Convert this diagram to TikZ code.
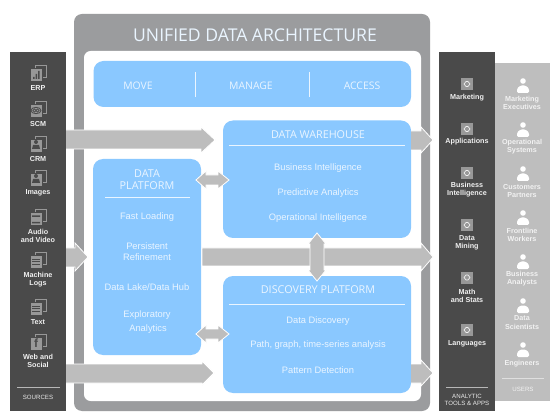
\documentclass[tikz,border=0pt]{standalone}
\usepackage{fontspec}
\setmainfont{Liberation Sans}
\newfontfamily\headfont{Open Sans}
\definecolor{blueb}{HTML}{8AC8FF}
\definecolor{outerg}{HTML}{9B9C9E}
\definecolor{darkp}{HTML}{4A4A4A}
\definecolor{arrowg}{HTML}{BDBDBD}
\definecolor{usersp}{HTML}{BEBEBE}
\definecolor{icong}{HTML}{989898}
\definecolor{softw}{HTML}{EAF5FF}
\tikzset{
 bluebox/.style={fill=blueb,draw=none,rounded corners=7.5},
 blockarrow/.style={fill=arrowg,draw=white,line width=0.6pt,line join=miter},
 sep/.style={draw=#1,line width=0.6pt},
 srclabel/.style={align=center,text=white!92!darkp,yshift=-0.5pt,font=\bfseries\fontsize{5.4}{6.2}\selectfont,inner sep=0},
 userlabel/.style={align=center,text=white!80!usersp,yshift=-0.5pt,font=\bfseries\fontsize{5.4}{6.2}\selectfont,inner sep=0},
 footlabel/.style={align=center,text=white!88!darkp,font=\fontsize{4.6}{5.4}\selectfont,inner sep=0},
 toplabel/.style={text=softw,yshift=-0.4pt,font=\headfont\fontsize{7.8}{8.6}\selectfont,inner sep=0},
 headlabel/.style={text=softw,yshift=-0.4pt,align=center,font=\headfont\fontsize{8.1}{9.1}\selectfont,inner sep=0},
 bodylabel/.style={align=center,text=softw,yshift=-1pt,font=\fontsize{7}{8}\selectfont,inner sep=0},
}
\newcommand{\sheeticon}[3]{%
 \begin{scope}[shift={(#1,#2)}]
  \draw[icong,line width=0.5pt] (-3,-8) rectangle (8,4);
  \fill[icong] (-8,-5) rectangle (4,8);
  \draw[darkp,line width=0.3pt] (-8,-5) rectangle (4,8);
  #3
 \end{scope}}
\newcommand{\pageglyph}{\foreach \yy in {-1,1.5,4}{\draw[darkp,line width=0.5pt] (-6,\yy) -- (2,\yy);}}
\newcommand{\personglyph}{\fill[darkp] (-2,-2) circle (2);\fill[darkp] (-6,5) -- (-5,1) -- (1,1) -- (2,5) -- cycle;}
\newcommand{\rightsq}[2]{\fill[icong] (#1-6,#2-6) rectangle (#1+6,#2+6);
 \draw[white!85!icong,line width=0.5pt] (#1-3,#2) -- (#1-1,#2-2.5) -- (#1+1,#2-2.5) -- (#1+3,#2) -- (#1+1,#2+2.5) -- (#1-1,#2+2.5) -- cycle;}
\newcommand{\personicon}[2]{\fill[white] (#1,#2+3) circle (2.8);
 \fill[white,rounded corners=1] (#1-6,#2+15) -- (#1-6,#2+10.5) -- (#1-2.5,#2+7.5) -- (#1+2.5,#2+7.5) -- (#1+6,#2+10.5) -- (#1+6,#2+15) -- cycle;}
\begin{document}
\begin{tikzpicture}[x=0.75pt,y=-0.75pt]
\useasboundingbox (0,0) rectangle (560,420);
\fill[white] (0,0) rectangle (560,420);
% panels
\fill[darkp] (10,52) rectangle (66,411);
\fill[usersp] (495,63) rectangle (550,401);
\fill[darkp] (439,52) rectangle (495,411);
\fill[outerg,rounded corners=6] (74,14) rectangle (430,411);
\fill[white,rounded corners=5] (84,51) rectangle (421,401);
% blue boxes
\fill[bluebox] (93.5,61) rectangle (411,107);
\fill[bluebox] (223,120.5) rectangle (411,238);
\fill[bluebox] (93,159) rectangle (201,355);
\fill[bluebox] (223,276) rectangle (411,393);
% through arrows
\draw[blockarrow] (66,130) -- (201,130) -- (201,127) -- (215,140) -- (201,153) -- (201,149) -- (66,149);
\draw[blockarrow] (411,131) -- (421,131) -- (421,127) -- (433,140) -- (421,153) -- (421,150) -- (411,150);
\draw[blockarrow] (66,248) -- (75,248) -- (75,243) -- (88,257) -- (75,271) -- (75,267) -- (66,267);
\draw[blockarrow] (202,248) -- (421,248) -- (421,243) -- (433,257) -- (421,271) -- (421,266) -- (202,266) -- cycle;
\draw[blockarrow] (66,364) -- (202,364) -- (202,361) -- (214,373) -- (202,385) -- (202,383) -- (66,383);
\draw[blockarrow] (411,364) -- (421,364) -- (421,360) -- (433,373) -- (421,386) -- (421,383) -- (411,383);
% double arrows
\draw[blockarrow] (317,233) -- (326,244) -- (324,244) -- (324,270) -- (326,270) -- (317,281) -- (308,270) -- (310,270) -- (310,244) -- (308,244) -- cycle;
\draw[blockarrow] (196,180) -- (206,171) -- (206,175) -- (218,175) -- (218,171) -- (229,180) -- (218,189) -- (218,185) -- (206,185) -- (206,189) -- cycle;
\draw[blockarrow] (196,334) -- (206,325) -- (206,329) -- (218,329) -- (218,325) -- (229,334) -- (218,343) -- (218,339) -- (206,339) -- (206,343) -- cycle;
% title and top bar
\node[text=softw,font=\headfont\fontsize{13.2}{14}\selectfont,inner sep=0] (title) at (255,35) {UNIFIED DATA ARCHITECTURE};
\node[toplabel] (move) at (138,85) {MOVE};
\node[toplabel] (manage) at (251,85) {MANAGE};
\node[toplabel] (access) at (362,85) {ACCESS};
\draw[sep=softw] (195,72) -- (195,97);
\draw[sep=softw] (309,72) -- (309,97);
% data warehouse
\node[headlabel] (dw) at (318,134) {DATA WAREHOUSE};
\draw[sep=softw] (229,145) -- (405,145);
\node[bodylabel] (dw1) at (318,167) {Business Intelligence};
\node[bodylabel] (dw2) at (318,192) {Predictive Analytics};
\node[bodylabel] (dw3) at (318,217) {Operational Intelligence};
% data platform
\node[headlabel] (dp) at (147,179) {DATA\\PLATFORM};
\draw[sep=softw] (105,197) -- (190,197);
\node[bodylabel] (dp1) at (147,216) {Fast Loading};
\node[bodylabel] (dp2) at (147,250) {Persistent\\Refinement};
\node[bodylabel] (dp3) at (147,286) {Data Lake/Data Hub};
\node[bodylabel] (dp4) at (147,314) {Exploratory};
\node[bodylabel] (dp5) at (148,328) {Analytics};
% discovery
\node[headlabel] (disc) at (318,289) {DISCOVERY PLATFORM};
\draw[sep=softw] (229,304) -- (405,304);
\node[bodylabel] (d1) at (318,320) {Data Discovery};
\node[bodylabel] (d2) at (318,344) {Path, graph, time-series analysis};
\node[bodylabel] (d3) at (318,369) {Pattern Detection};
% source icons
\sheeticon{38}{73}{\fill[darkp] (-5,4) rectangle (-3.5,6) (-2.5,1) rectangle (-1,6) (0,-2) rectangle (1.5,6);}
\sheeticon{38}{109}{\draw[darkp,line width=0.6pt] (-2,1.5) ellipse (5 and 3.2);\draw[darkp,line width=0.5pt] (-3.5,1.5) circle (1.6) (-0.5,1.5) circle (1.6);}
\sheeticon{38}{144}{\personglyph}
\sheeticon{38}{178}{\personglyph}
\sheeticon{38}{217}{\fill[darkp] (-6,-1.5) rectangle (2,0) (-6,5) rectangle (2,6.5);}
\sheeticon{38}{260}{\pageglyph}
\sheeticon{38}{307}{\pageglyph}
\sheeticon{38}{342}{\node[text=darkp,font=\bfseries\fontsize{9}{9}\selectfont,inner sep=0] (fb) at (-2,1.5) {f};}
% source labels
\node[srclabel] (erp) at (38,87) {ERP};
\node[srclabel] (scm) at (38,123) {SCM};
\node[srclabel] (crm) at (38,158) {CRM};
\node[srclabel] (img) at (38,192) {Images};
\node[srclabel] (av) at (38,235) {Audio\\and Video};
\node[srclabel] (ml) at (38,279) {Machine\\Logs};
\node[srclabel] (txt) at (38,321) {Text};
\node[srclabel] (web) at (38,360) {Web and\\Social};
\draw[sep=white!60!darkp] (17,387) -- (60,387);
\node[footlabel] (src) at (38,397) {SOURCES};
% tool icons and labels
\rightsq{467}{84}\rightsq{467}{129}\rightsq{467}{173}\rightsq{467}{225}\rightsq{467}{277.5}\rightsq{467}{330}
\node[srclabel] (t1) at (467,97) {Marketing};
\node[srclabel] (t2) at (467,141) {Applications};
\node[srclabel] (t3) at (467,189) {Business\\Intelligence};
\node[srclabel] (t4) at (467,242) {Data\\Mining};
\node[srclabel] (t5) at (467,295) {Math\\and Stats};
\node[srclabel] (t6) at (467,343) {Languages};
\draw[sep=white!60!darkp] (446,387) -- (488,387);
\node[footlabel] (tools) at (467,399.5) {ANALYTIC\\TOOLS \& APPS};
% users
\personicon{523}{78}\personicon{523}{122}\personicon{523}{166}\personicon{523}{210}\personicon{523}{254}\personicon{523}{298}\personicon{523}{342}
\node[userlabel] (u1) at (522,102) {Marketing\\Executives};
\node[userlabel] (u2) at (522,146) {Operational\\Systems};
\node[userlabel] (u3) at (522,190) {Customers\\Partners};
\node[userlabel] (u4) at (522,234) {Frontline\\Workers};
\node[userlabel] (u5) at (522,278) {Business\\Analysts};
\node[userlabel] (u6) at (522,322) {Data\\Scientists};
\node[userlabel] (u7) at (522,363) {Engineers};
\draw[sep=white!50!usersp] (502,378) -- (544,378);
\node[footlabel,text=white!80!usersp] (users) at (523,389) {USERS};
\end{tikzpicture}
\end{document}
